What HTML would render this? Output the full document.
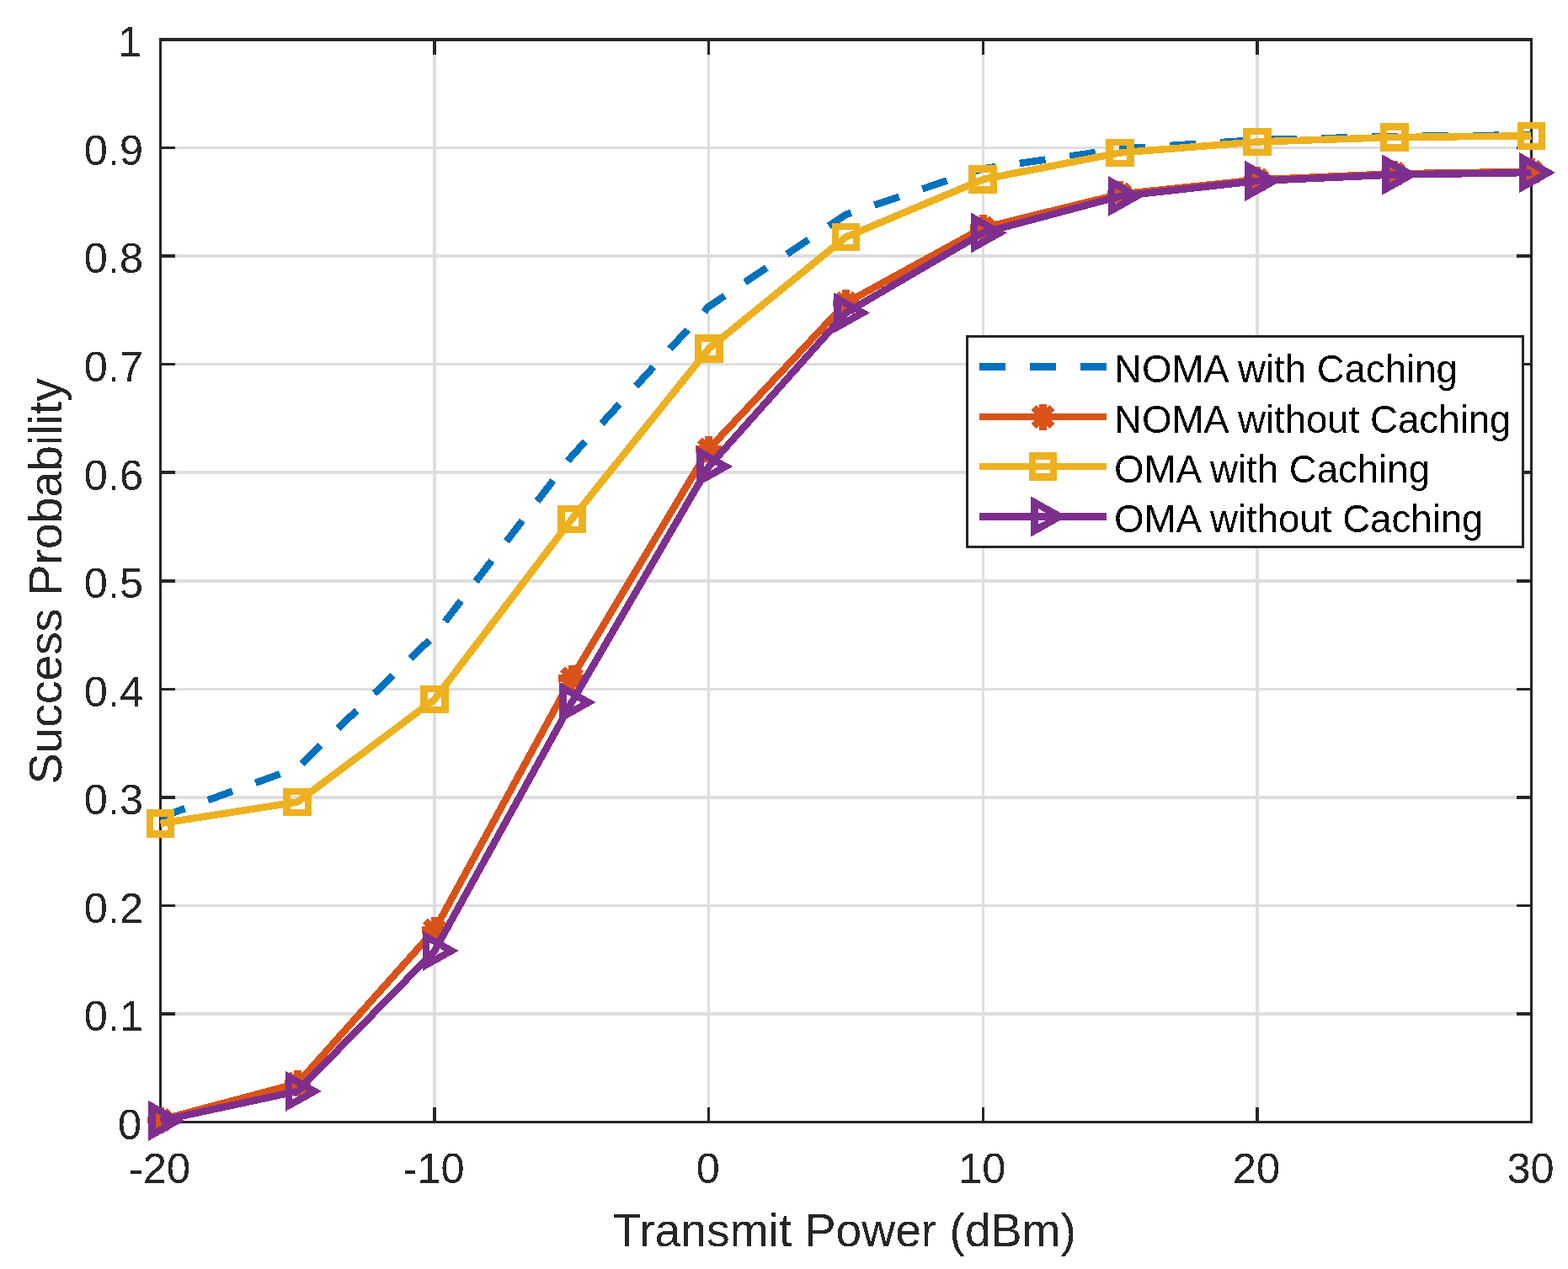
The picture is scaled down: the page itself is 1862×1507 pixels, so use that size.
<!DOCTYPE html><html><head><meta charset="utf-8"><title>Success Probability vs Transmit Power</title><style>html,body{margin:0;padding:0;background:#fff;overflow:hidden;}svg{display:block;}text{font-family:"Liberation Sans",Arial,Helvetica,sans-serif;}</style></head><body>
<svg shape-rendering="crispEdges" width="1862" height="1507" viewBox="0 0 1862 1507">
<defs><filter id="al" x="-0.05" y="-0.1" width="1.1" height="1.2"><feComponentTransfer><feFuncA type="discrete" tableValues="0 1"/></feComponentTransfer></filter></defs>
<rect x="0" y="0" width="1862" height="1507" fill="#fff"/>
<path d="M516.10 47.00V1332.50M841.70 47.00V1332.50M1167.30 47.00V1332.50M1492.90 47.00V1332.50M190.50 1203.95H1818.50M190.50 1075.40H1818.50M190.50 946.85H1818.50M190.50 818.30H1818.50M190.50 689.75H1818.50M190.50 561.20H1818.50M190.50 432.65H1818.50M190.50 304.10H1818.50M190.50 175.55H1818.50" stroke="#dedede" stroke-width="3.5" fill="none"/>
<path d="M190.50 1332.50v-17.5M190.50 47.00v17.5M516.10 1332.50v-17.5M516.10 47.00v17.5M841.70 1332.50v-17.5M841.70 47.00v17.5M1167.30 1332.50v-17.5M1167.30 47.00v17.5M1492.90 1332.50v-17.5M1492.90 47.00v17.5M1818.50 1332.50v-17.5M1818.50 47.00v17.5M190.50 1332.50h17.5M1818.50 1332.50h-17.5M190.50 1203.95h17.5M1818.50 1203.95h-17.5M190.50 1075.40h17.5M1818.50 1075.40h-17.5M190.50 946.85h17.5M1818.50 946.85h-17.5M190.50 818.30h17.5M1818.50 818.30h-17.5M190.50 689.75h17.5M1818.50 689.75h-17.5M190.50 561.20h17.5M1818.50 561.20h-17.5M190.50 432.65h17.5M1818.50 432.65h-17.5M190.50 304.10h17.5M1818.50 304.10h-17.5M190.50 175.55h17.5M1818.50 175.55h-17.5M190.50 47.00h17.5M1818.50 47.00h-17.5" stroke="#262626" stroke-width="3.5" fill="none"/>
<rect x="190.5" y="47.0" width="1628.0" height="1285.5" stroke="#262626" stroke-width="3.5" fill="none"/>
<polyline points="190.50,970.70 353.30,911.60 516.10,754.30 678.90,541.85 841.70,364.00 1004.50,254.80 1167.30,200.30 1330.10,176.80 1492.90,166.20 1655.70,162.00 1818.50,160.30" fill="none" stroke="#0072BD" stroke-width="8.5" stroke-dasharray="31 29" stroke-linejoin="round"/>
<polyline points="190.50,1330.00 353.30,1286.60 516.10,1104.30 678.90,805.30 841.70,533.30 1004.50,359.80 1167.30,270.60 1330.10,230.60 1492.90,213.50 1655.70,206.30 1818.50,203.80" fill="none" stroke="#D95319" stroke-width="8.5" stroke-linejoin="round"/>
<path d="M175.00 1330.00H206.00M190.50 1314.50V1345.50M179.54 1319.04L201.46 1340.96M179.54 1340.96L201.46 1319.04" stroke="#D95319" stroke-width="8.5" fill="none"/>
<path d="M337.80 1286.60H368.80M353.30 1271.10V1302.10M342.34 1275.64L364.26 1297.56M342.34 1297.56L364.26 1275.64" stroke="#D95319" stroke-width="8.5" fill="none"/>
<path d="M500.60 1104.30H531.60M516.10 1088.80V1119.80M505.14 1093.34L527.06 1115.26M505.14 1115.26L527.06 1093.34" stroke="#D95319" stroke-width="8.5" fill="none"/>
<path d="M663.40 805.30H694.40M678.90 789.80V820.80M667.94 794.34L689.86 816.26M667.94 816.26L689.86 794.34" stroke="#D95319" stroke-width="8.5" fill="none"/>
<path d="M826.20 533.30H857.20M841.70 517.80V548.80M830.74 522.34L852.66 544.26M830.74 544.26L852.66 522.34" stroke="#D95319" stroke-width="8.5" fill="none"/>
<path d="M989.00 359.80H1020.00M1004.50 344.30V375.30M993.54 348.84L1015.46 370.76M993.54 370.76L1015.46 348.84" stroke="#D95319" stroke-width="8.5" fill="none"/>
<path d="M1151.80 270.60H1182.80M1167.30 255.10V286.10M1156.34 259.64L1178.26 281.56M1156.34 281.56L1178.26 259.64" stroke="#D95319" stroke-width="8.5" fill="none"/>
<path d="M1314.60 230.60H1345.60M1330.10 215.10V246.10M1319.14 219.64L1341.06 241.56M1319.14 241.56L1341.06 219.64" stroke="#D95319" stroke-width="8.5" fill="none"/>
<path d="M1477.40 213.50H1508.40M1492.90 198.00V229.00M1481.94 202.54L1503.86 224.46M1481.94 224.46L1503.86 202.54" stroke="#D95319" stroke-width="8.5" fill="none"/>
<path d="M1640.20 206.30H1671.20M1655.70 190.80V221.80M1644.74 195.34L1666.66 217.26M1644.74 217.26L1666.66 195.34" stroke="#D95319" stroke-width="8.5" fill="none"/>
<path d="M1803.00 203.80H1834.00M1818.50 188.30V219.30M1807.54 192.84L1829.46 214.76M1807.54 214.76L1829.46 192.84" stroke="#D95319" stroke-width="8.5" fill="none"/>
<polyline points="190.50,977.90 353.30,952.40 516.10,830.50 678.90,616.50 841.70,414.00 1004.50,281.50 1167.30,213.00 1330.10,181.40 1492.90,168.45 1655.70,163.00 1818.50,161.40" fill="none" stroke="#EDB120" stroke-width="8.5" stroke-linejoin="round"/>
<rect x="177.90" y="965.30" width="25.20" height="25.20" fill="none" stroke="#EDB120" stroke-width="8.5"/>
<rect x="340.70" y="939.80" width="25.20" height="25.20" fill="none" stroke="#EDB120" stroke-width="8.5"/>
<rect x="503.50" y="817.90" width="25.20" height="25.20" fill="none" stroke="#EDB120" stroke-width="8.5"/>
<rect x="666.30" y="603.90" width="25.20" height="25.20" fill="none" stroke="#EDB120" stroke-width="8.5"/>
<rect x="829.10" y="401.40" width="25.20" height="25.20" fill="none" stroke="#EDB120" stroke-width="8.5"/>
<rect x="991.90" y="268.90" width="25.20" height="25.20" fill="none" stroke="#EDB120" stroke-width="8.5"/>
<rect x="1154.70" y="200.40" width="25.20" height="25.20" fill="none" stroke="#EDB120" stroke-width="8.5"/>
<rect x="1317.50" y="168.80" width="25.20" height="25.20" fill="none" stroke="#EDB120" stroke-width="8.5"/>
<rect x="1480.30" y="155.85" width="25.20" height="25.20" fill="none" stroke="#EDB120" stroke-width="8.5"/>
<rect x="1643.10" y="150.40" width="25.20" height="25.20" fill="none" stroke="#EDB120" stroke-width="8.5"/>
<rect x="1805.90" y="148.80" width="25.20" height="25.20" fill="none" stroke="#EDB120" stroke-width="8.5"/>
<polyline points="190.50,1330.90 353.30,1295.90 516.10,1129.10 678.90,834.10 841.70,554.00 1004.50,371.50 1167.30,276.50 1330.10,233.00 1492.90,214.90 1655.70,207.50 1818.50,205.00" fill="none" stroke="#7E2F8E" stroke-width="8.5" stroke-linejoin="round"/>
<polygon points="180.30,1314.05 180.30,1347.75 210.40,1330.90" fill="none" stroke="#7E2F8E" stroke-width="8.5" stroke-linejoin="miter"/>
<polygon points="343.10,1279.05 343.10,1312.75 373.20,1295.90" fill="none" stroke="#7E2F8E" stroke-width="8.5" stroke-linejoin="miter"/>
<polygon points="505.90,1112.25 505.90,1145.95 536.00,1129.10" fill="none" stroke="#7E2F8E" stroke-width="8.5" stroke-linejoin="miter"/>
<polygon points="668.70,817.25 668.70,850.95 698.80,834.10" fill="none" stroke="#7E2F8E" stroke-width="8.5" stroke-linejoin="miter"/>
<polygon points="831.50,537.15 831.50,570.85 861.60,554.00" fill="none" stroke="#7E2F8E" stroke-width="8.5" stroke-linejoin="miter"/>
<polygon points="994.30,354.65 994.30,388.35 1024.40,371.50" fill="none" stroke="#7E2F8E" stroke-width="8.5" stroke-linejoin="miter"/>
<polygon points="1157.10,259.65 1157.10,293.35 1187.20,276.50" fill="none" stroke="#7E2F8E" stroke-width="8.5" stroke-linejoin="miter"/>
<polygon points="1319.90,216.15 1319.90,249.85 1350.00,233.00" fill="none" stroke="#7E2F8E" stroke-width="8.5" stroke-linejoin="miter"/>
<polygon points="1482.70,198.05 1482.70,231.75 1512.80,214.90" fill="none" stroke="#7E2F8E" stroke-width="8.5" stroke-linejoin="miter"/>
<polygon points="1645.50,190.65 1645.50,224.35 1675.60,207.50" fill="none" stroke="#7E2F8E" stroke-width="8.5" stroke-linejoin="miter"/>
<polygon points="1808.30,188.15 1808.30,221.85 1838.40,205.00" fill="none" stroke="#7E2F8E" stroke-width="8.5" stroke-linejoin="miter"/>
<text filter="url(#al)" x="189.50" y="1405" font-size="50.5" fill="#262626" text-anchor="middle">-20</text>
<text filter="url(#al)" x="515.10" y="1405" font-size="50.5" fill="#262626" text-anchor="middle">-10</text>
<text filter="url(#al)" x="840.70" y="1405" font-size="50.5" fill="#262626" text-anchor="middle">0</text>
<text filter="url(#al)" x="1166.30" y="1405" font-size="50.5" fill="#262626" text-anchor="middle">10</text>
<text filter="url(#al)" x="1491.90" y="1405" font-size="50.5" fill="#262626" text-anchor="middle">20</text>
<text filter="url(#al)" x="1817.50" y="1405" font-size="50.5" fill="#262626" text-anchor="middle">30</text>
<text filter="url(#al)" x="168" y="1352.80" font-size="50.5" fill="#262626" text-anchor="end">0</text>
<text filter="url(#al)" x="170" y="1224.25" font-size="50.5" fill="#262626" text-anchor="end">0.1</text>
<text filter="url(#al)" x="170" y="1095.70" font-size="50.5" fill="#262626" text-anchor="end">0.2</text>
<text filter="url(#al)" x="170" y="967.15" font-size="50.5" fill="#262626" text-anchor="end">0.3</text>
<text filter="url(#al)" x="170" y="838.60" font-size="50.5" fill="#262626" text-anchor="end">0.4</text>
<text filter="url(#al)" x="170" y="710.05" font-size="50.5" fill="#262626" text-anchor="end">0.5</text>
<text filter="url(#al)" x="170" y="581.50" font-size="50.5" fill="#262626" text-anchor="end">0.6</text>
<text filter="url(#al)" x="170" y="452.95" font-size="50.5" fill="#262626" text-anchor="end">0.7</text>
<text filter="url(#al)" x="170" y="324.40" font-size="50.5" fill="#262626" text-anchor="end">0.8</text>
<text filter="url(#al)" x="170" y="195.85" font-size="50.5" fill="#262626" text-anchor="end">0.9</text>
<text filter="url(#al)" x="168" y="67.30" font-size="50.5" fill="#262626" text-anchor="end">1</text>
<text filter="url(#al)" x="1002.75" y="1480" font-size="55.25" fill="#262626" text-anchor="middle">Transmit Power (dBm)</text>
<text filter="url(#al)" transform="translate(73 690.4) rotate(-90)" x="0" y="0" font-size="55.25" fill="#262626" text-anchor="middle">Success Probability</text>
<rect x="1148.5" y="399.5" width="659.9" height="249.9" fill="#fff" stroke="#262626" stroke-width="2.8"/>
<line x1="1163" y1="435.5" x2="1314" y2="435.5" stroke="#0072BD" stroke-width="8.5" stroke-dasharray="31 29"/>
<text filter="url(#al)" x="1323" y="454.30" font-size="45.6" fill="#000">NOMA with Caching</text>
<line x1="1163" y1="495.0" x2="1314" y2="495.0" stroke="#D95319" stroke-width="8.5"/>
<path d="M1223.00 495.00H1254.00M1238.50 479.50V510.50M1227.54 484.04L1249.46 505.96M1227.54 505.96L1249.46 484.04" stroke="#D95319" stroke-width="8.5" fill="none"/>
<text filter="url(#al)" x="1323" y="513.80" font-size="45.6" fill="#000">NOMA without Caching</text>
<line x1="1163" y1="554.0" x2="1314" y2="554.0" stroke="#EDB120" stroke-width="8.5"/>
<rect x="1225.90" y="541.40" width="25.20" height="25.20" fill="none" stroke="#EDB120" stroke-width="8.5"/>
<text filter="url(#al)" x="1323" y="572.80" font-size="45.6" fill="#000">OMA with Caching</text>
<line x1="1163" y1="613.4" x2="1314" y2="613.4" stroke="#7E2F8E" stroke-width="8.5"/>
<polygon points="1228.30,596.55 1228.30,630.25 1258.40,613.40" fill="none" stroke="#7E2F8E" stroke-width="8.5" stroke-linejoin="miter"/>
<text filter="url(#al)" x="1323" y="632.20" font-size="45.6" fill="#000">OMA without Caching</text>
</svg></body></html>
